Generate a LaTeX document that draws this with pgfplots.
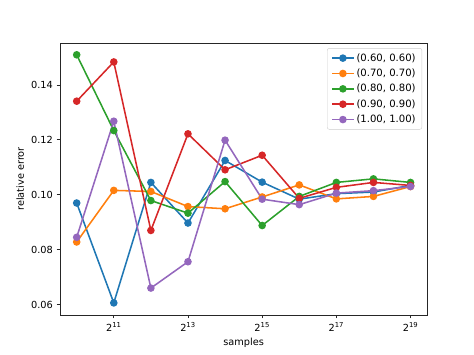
\documentclass[border=0pt]{standalone}
\usepackage{pgfplots}
\pgfplotsset{compat=1.18}
\usepackage{fontspec}
\setmainfont{DejaVu Sans}
\definecolor{c0}{HTML}{1F77B4}
\definecolor{c1}{HTML}{FF7F0E}
\definecolor{c2}{HTML}{2CA02C}
\definecolor{c3}{HTML}{D62728}
\definecolor{c4}{HTML}{9467BD}
\begin{document}
\begin{tikzpicture}
\path[use as bounding box] (0pt,0pt) rectangle (460.8pt,345.1pt);
\begin{axis}[
  at={(58.33pt,38.89pt)}, anchor=south west,
  scale only axis,
  width=357pt, height=264.4pt,
  xmin=9.55, xmax=19.45,
  ymin=0.0562, ymax=0.1553,
  xtick={11,13,15,17,19},
  xticklabels={2\textsuperscript{11},2\textsuperscript{13},2\textsuperscript{15},2\textsuperscript{17},2\textsuperscript{19}},
  ytick={0.06,0.08,0.10,0.12,0.14},
  yticklabel style={/pgf/number format/fixed,/pgf/number format/precision=2,/pgf/number format/fixed zerofill},
  /pgf/number format/assume math mode=true,
  tick label style={font=\fontsize{9.5}{11}\selectfont},
  label style={font=\fontsize{9.5}{11}\selectfont},
  xlabel={samples}, ylabel={relative error},
  tick align=outside, tickpos=left,
  major tick length=3.4pt,
  axis line style={black!85, line width=0.8pt},
  every tick/.style={black!85, line width=0.8pt},
  scaled y ticks=false,
  legend cell align=left,
  legend image code/.code={
    \draw[mark repeat=2, mark phase=2] plot coordinates {(0pt,0pt) (10.5pt,0pt) (21pt,0pt)};
  },
  legend style={at={(0.986,0.981)}, anchor=north east, draw=black!20, rounded corners=2pt,
    fill=white, font=\fontsize{9.8}{11}\selectfont, row sep=2pt, inner xsep=4pt, inner ysep=3pt},
  every axis plot/.append style={line width=1.5pt, mark=*, mark size=2.9pt},
]
\addplot[c0, mark options={fill=c0, draw=c0}] coordinates {(10,0.0970)(11,0.0606)(12,0.1045)(13,0.0897)(14,0.1125)(15,0.1046)(16,0.0984)(17,0.1004)(18,0.1010)(19,0.1034)};
\addlegendentry{(0.60, 0.60)}
\addplot[c1, mark options={fill=c1, draw=c1}] coordinates {(10,0.0828)(11,0.1016)(12,0.1012)(13,0.0957)(14,0.0949)(15,0.0992)(16,0.1036)(17,0.0985)(18,0.0994)(19,0.1030)};
\addlegendentry{(0.70, 0.70)}
\addplot[c2, mark options={fill=c2, draw=c2}] coordinates {(10,0.1510)(11,0.1234)(12,0.0979)(13,0.0933)(14,0.1048)(15,0.0888)(16,0.0994)(17,0.1045)(18,0.1058)(19,0.1045)};
\addlegendentry{(0.80, 0.80)}
\addplot[c3, mark options={fill=c3, draw=c3}] coordinates {(10,0.1341)(11,0.1484)(12,0.0870)(13,0.1222)(14,0.1091)(15,0.1144)(16,0.0987)(17,0.1027)(18,0.1045)(19,0.1034)};
\addlegendentry{(0.90, 0.90)}
\addplot[c4, mark options={fill=c4, draw=c4}] coordinates {(10,0.0845)(11,0.1268)(12,0.0660)(13,0.0756)(14,0.1199)(15,0.0984)(16,0.0964)(17,0.1006)(18,0.1015)(19,0.1030)};
\addlegendentry{(1.00, 1.00)}
\end{axis}
\end{tikzpicture}
\end{document}
